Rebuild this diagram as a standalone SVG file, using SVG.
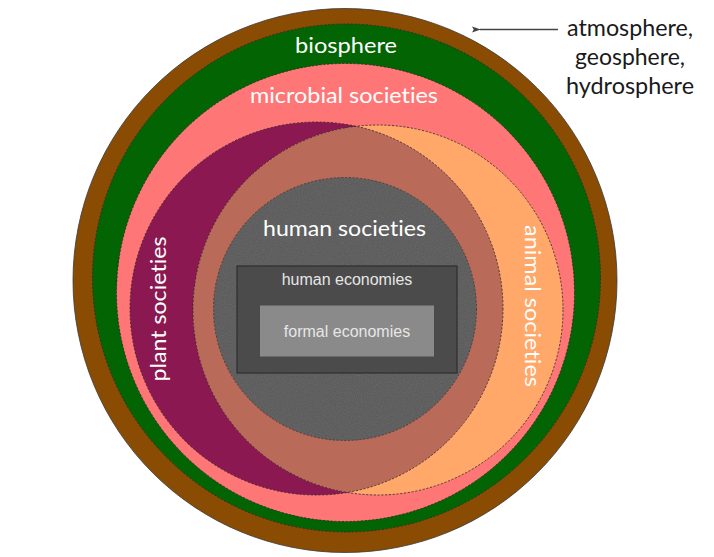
<svg xmlns="http://www.w3.org/2000/svg" width="714" height="557" viewBox="0 0 714 557">
<style>
.ring{stroke:#2a2a2a;stroke-width:0.8;stroke-dasharray:2.2,1.6}
.lbl{font-family:Lato,"Open Sans","DejaVu Sans",sans-serif;fill:#ffffff;text-anchor:middle;font-variant-ligatures:none}
.big{font-size:22px}
.box{font-family:"Liberation Sans",Arial,sans-serif;font-size:16px;fill:#e6e6e6;text-anchor:middle}
.ext{font-family:Lato,"Open Sans","DejaVu Sans",sans-serif;font-size:23px;fill:#1a1a1a;text-anchor:middle;font-variant-ligatures:none}
</style>
<defs>
<clipPath id="plantClip"><circle cx="316.5" cy="308.5" r="186.5"/></clipPath>
<marker id="arr" viewBox="0 0 10 10" refX="1" refY="5" markerWidth="9" markerHeight="9" orient="auto-start-reverse" markerUnits="userSpaceOnUse">
<path d="M10,1.5 L0,5 L10,8.5 L8,5 Z" fill="#444"/>
</marker>
<filter id="grain" x="0" y="0" width="100%" height="100%">
<feTurbulence type="fractalNoise" baseFrequency="0.9" numOctaves="2" seed="3" result="n"/>
<feColorMatrix in="n" type="matrix" values="0 0 0 0 0.5  0 0 0 0 0.5  0 0 0 0 0.5  0 0 0 0.12 0" result="g"/>
<feComposite in="g" in2="SourceGraphic" operator="in" result="gc"/>
<feMerge><feMergeNode in="SourceGraphic"/><feMergeNode in="gc"/></feMerge>
</filter>
</defs>

<g id="atmosphere">
<circle cx="345" cy="280.5" r="272" fill="#8a4b03" stroke="#3a3a3a" stroke-width="0.8"/>
</g>
<g id="biosphere">
<circle class="ring" cx="346.5" cy="278" r="254" fill="#026402"/>
<text class="lbl big" x="346" y="53" textLength="102" lengthAdjust="spacingAndGlyphs">biosphere</text>
</g>
<g id="microbial-societies">
<circle class="ring" cx="345.5" cy="292.5" r="229" fill="#ff7676"/>
<text class="lbl big" x="344" y="103" textLength="188" lengthAdjust="spacingAndGlyphs">microbial societies</text>
</g>
<g id="plant-societies">
<circle cx="316.5" cy="308.5" r="186.5" fill="#8b1851"/>
</g>
<g id="animal-societies">
<circle cx="378" cy="310" r="185" fill="#ffa86a"/>
<circle cx="378" cy="310" r="185" fill="#ba6a58" clip-path="url(#plantClip)"/>
<circle class="ring" cx="316.5" cy="308.5" r="186.5" fill="none"/>
<circle class="ring" cx="378" cy="310" r="185" fill="none"/>
<text class="lbl" font-size="22" transform="translate(166,309) rotate(-90)" textLength="145" lengthAdjust="spacingAndGlyphs">plant societies</text>
<text class="lbl" font-size="22" transform="translate(525,306) rotate(90)" textLength="162" lengthAdjust="spacingAndGlyphs">animal societies</text>
</g>
<g id="human-societies">
<circle class="ring" cx="345" cy="309" r="131.5" fill="#565656" filter="url(#grain)"/>
<text class="lbl big" x="344.5" y="236" textLength="163" lengthAdjust="spacingAndGlyphs">human societies</text>
</g>
<g id="human-economies">
<rect x="237" y="266" width="220" height="107" fill="#4b4b4b" stroke="#2e2e2e" stroke-width="1.2"/>
<text class="box" x="347" y="285">human economies</text>
</g>
<g id="formal-economies">
<rect x="259.5" y="305" width="175" height="52" fill="#8a8a8a" stroke="#4a4a4a" stroke-width="1"/>
<text class="box" x="347" y="337" fill="#f0f0f0">formal economies</text>
</g>

<g id="connectors">
<line x1="558" y1="29.5" x2="480" y2="29.5" stroke="#444" stroke-width="1.3" marker-end="url(#arr)"/>
</g>

<g id="spheres-label">
<text class="ext" x="630" y="36" textLength="126" lengthAdjust="spacingAndGlyphs">atmosphere,</text>
<text class="ext" x="630" y="65" textLength="110" lengthAdjust="spacingAndGlyphs">geosphere,</text>
<text class="ext" x="630" y="93.5" textLength="128" lengthAdjust="spacingAndGlyphs">hydrosphere</text>
</g>
</svg>
